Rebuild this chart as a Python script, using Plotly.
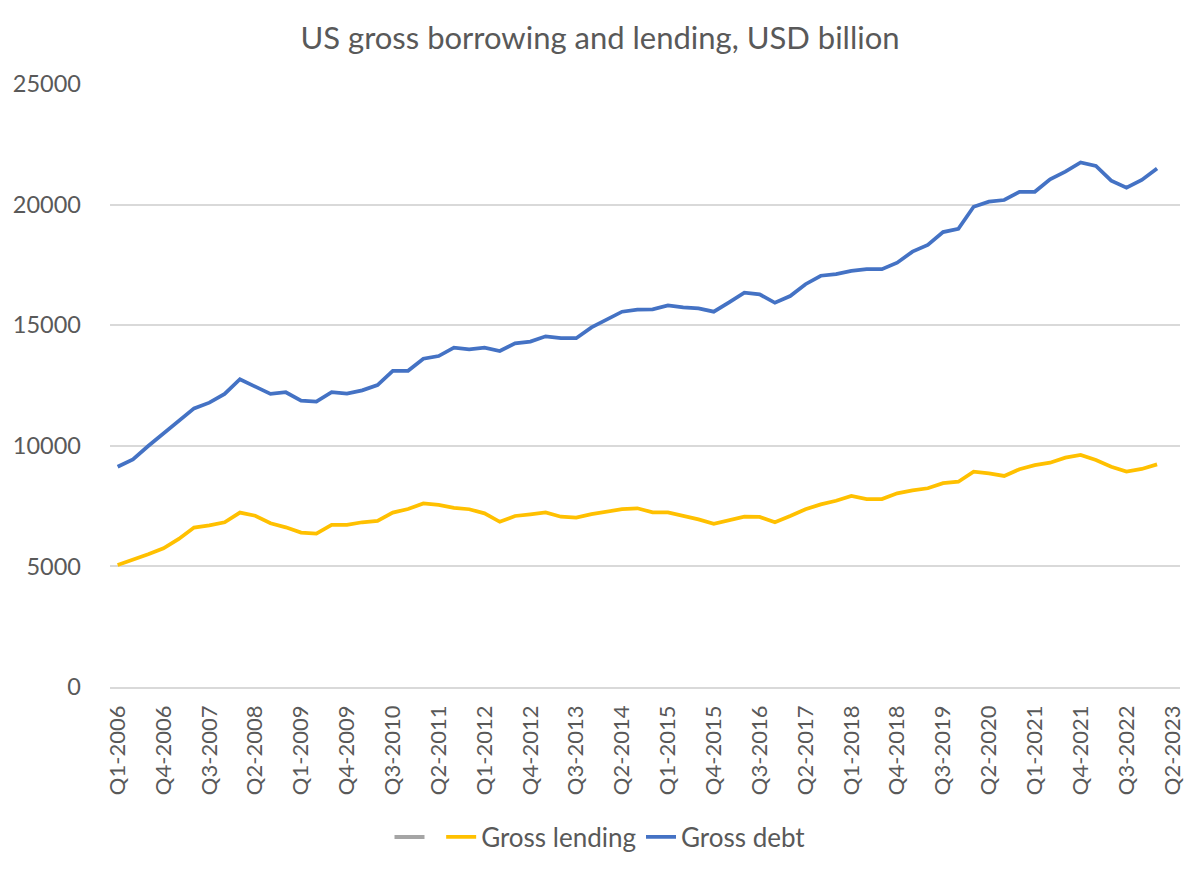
import plotly.graph_objects as go

categories = [f"Q{q}-{y}" for y in range(2006, 2024) for q in range(1, 5)][:70]

gross_debt = [
    9130, 9440, 9990, 10520, 11070, 11550, 11790, 12150, 12760, 12450,
    12150, 12220, 11870, 11830, 12220, 12160, 12300, 12520, 13110, 13110,
    13610, 13720, 14070, 14000, 14070, 13930, 14250, 14320, 14540, 14460,
    14460, 14910, 15240, 15560, 15650, 15660, 15820, 15740, 15700, 15560,
    15950, 16350, 16280, 15930, 16210, 16700, 17050, 17120, 17250, 17320,
    17320, 17590, 18050, 18330, 18860, 19000, 19910, 20120, 20190, 20530,
    20530, 21050, 21370, 21750, 21600, 20990, 20700, 21020, 21500,
]
gross_lending = [
    5060, 5270, 5500, 5750, 6140, 6610, 6700, 6830, 7230, 7100,
    6790, 6620, 6400, 6360, 6720, 6720, 6830, 6890, 7230, 7380,
    7610, 7550, 7430, 7370, 7200, 6850, 7090, 7160, 7240, 7060,
    7020, 7170, 7260, 7370, 7410, 7240, 7240, 7100, 6950, 6770,
    6920, 7060, 7050, 6830, 7090, 7370, 7570, 7720, 7920, 7790,
    7790, 8030, 8150, 8240, 8450, 8510, 8930, 8860, 8750, 9030,
    9200, 9300, 9510, 9620, 9410, 9130, 8930, 9040, 9230,
]

tick_idx = list(range(0, 70, 3))
tick_text = [categories[i] for i in tick_idx]

FONT = "Lato"
GREY_TXT = "#595959"

fig = go.Figure()
fig.add_trace(go.Scatter(
    x=list(range(len(categories))), y=[None] * len(categories),
    mode="lines", name=" ", line=dict(color="#A5A5A5", width=4),
    showlegend=True,
))
fig.add_trace(go.Scatter(
    x=list(range(len(gross_lending))), y=gross_lending,
    mode="lines", name="Gross lending", line=dict(color="#FFC000", width=3.75),
))
fig.add_trace(go.Scatter(
    x=list(range(len(gross_debt))), y=gross_debt,
    mode="lines", name="Gross debt", line=dict(color="#4472C4", width=3.75),
))

fig.update_layout(
    width=1200, height=871,
    paper_bgcolor="white", plot_bgcolor="white",
    margin=dict(l=110, r=20, t=84, b=184),
    title=dict(text="US gross borrowing and lending, USD billion",
               x=0.5, xanchor="center", y=1 - 38 / 871, yanchor="middle",
               font=dict(family=FONT, size=31, color=GREY_TXT)),
    font=dict(family=FONT, size=22, color=GREY_TXT),
    legend=dict(orientation="h", xref="container", x=0.5, xanchor="center",
                yref="container", y=(871 - 837) / 871, yanchor="middle",
                font=dict(family=FONT, size=26, color=GREY_TXT),
                itemwidth=30, tracegroupgap=0),
    xaxis=dict(
        range=[-0.5, 69.5], tickmode="array", tickvals=tick_idx, ticktext=tick_text,
        tickangle=-90, showgrid=False, zeroline=False, showline=True,
        linecolor="#d9d9d9", linewidth=1.5, ticks="", ticklabelstandoff=8,
        tickfont=dict(family=FONT, size=22, color=GREY_TXT),
    ),
    yaxis=dict(
        range=[0, 25000], tickmode="array",
        tickvals=[0, 5000, 10000, 15000, 20000, 25000],
        ticktext=["0", "5000", "10000", "15000", "20000", "25000"],
        showgrid=True, gridcolor="#d9d9d9", gridwidth=1.5,
        zeroline=False, showline=False, ticks="", ticklabelstandoff=28,
        tickfont=dict(family=FONT, size=23.5, color=GREY_TXT),
    ),
)

fig.write_html("out.html")
